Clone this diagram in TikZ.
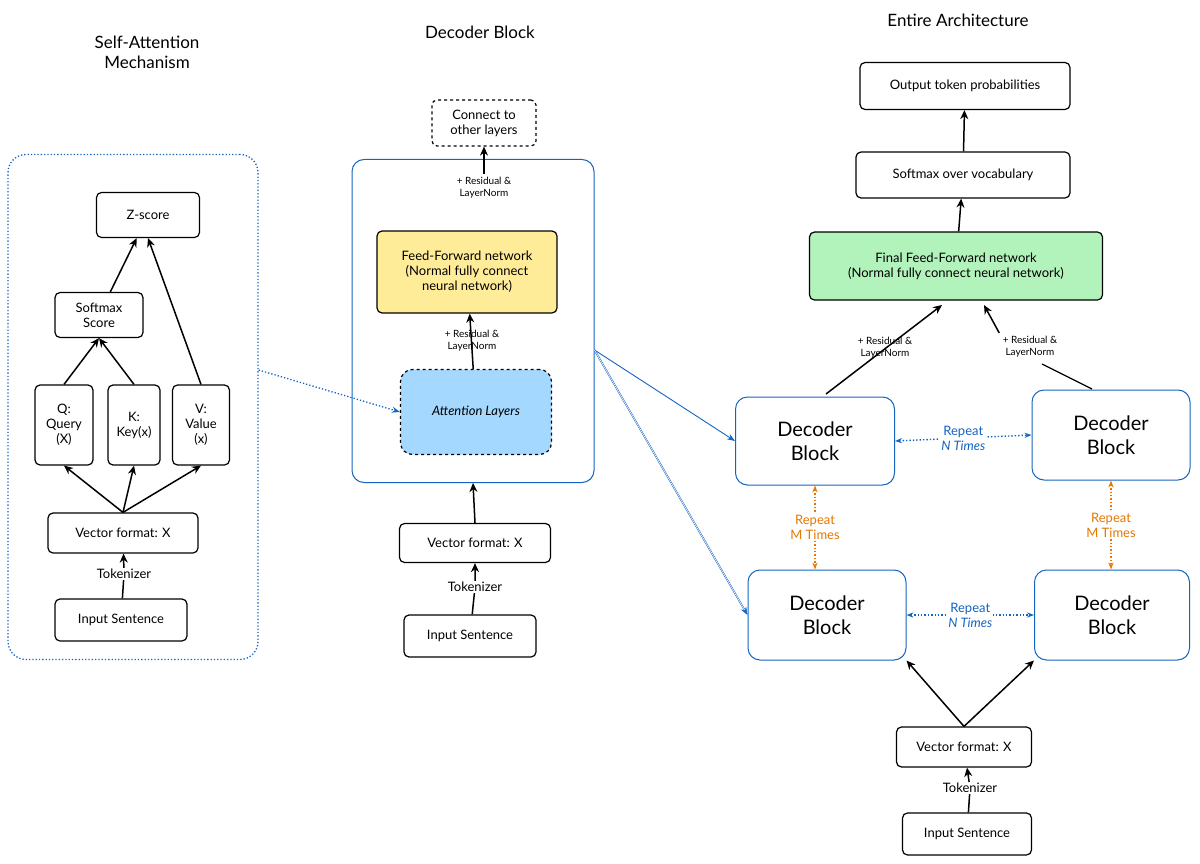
\documentclass[tikz,border=0pt]{standalone}
\usepackage{fontspec}
\setmainfont{Lato}
\usetikzlibrary{arrows.meta}
\definecolor{bl}{HTML}{1565C0}
\definecolor{orn}{HTML}{E67700}
\definecolor{yel}{HTML}{FFEC99}
\definecolor{lbl}{HTML}{A5D8FF}
\definecolor{grn}{HTML}{B2F2BB}
\begin{document}
\begin{tikzpicture}[x=1pt,y=-1pt,
 box/.style={draw,line width=1.2pt,rounded corners=5pt,align=center,font=\fontsize{13}{15}\selectfont,inner sep=0pt},
 bbox/.style={draw=bl,line width=1pt,rounded corners=12pt,align=center,font=\fontsize{20}{24}\selectfont,inner sep=0pt},
 lab/.style={align=center,font=\fontsize{13}{15}\selectfont},
 sm/.style={align=center,font=\fontsize{10}{12}\selectfont},
 rl/.style={align=center,font=\fontsize{13}{15}\selectfont,fill=white,inner sep=1pt},
 ttl/.style={align=center,font=\fontsize{17}{20}\selectfont},
 arr/.style={-{Stealth[length=9pt,width=8pt,open]},line width=1.5pt},
 rep/.style={{Stealth[length=7pt,open]}-{Stealth[length=7pt,open]},dotted,line width=1.4pt}]
\useasboundingbox (0,0) rectangle (1200,864);
% titles
\node[ttl] (t1) at (147,52) {Self-Attention\\Mechanism};
\node[ttl] (t2) at (480,32) {Decoder Block};
\node[ttl] (t3) at (958,20) {Entire Architecture};
% self-attention
\node[draw=bl,dotted,line width=1.3pt,rounded corners=18pt,minimum width=250pt,minimum height=505pt] (sa) at (133,407) {};
\node[box,minimum width=103pt,minimum height=45pt] (z) at (148,215) {Z-score};
\node[box,minimum width=88pt,minimum height=45pt] (sm) at (99,315) {Softmax\\Score};
\node[box,minimum width=58pt,minimum height=80pt] (q) at (64,425) {Q:\\Query\\(X)};
\node[box,minimum width=52pt,minimum height=80pt] (k) at (134,425) {K:\\Key(x)};
\node[box,minimum width=57pt,minimum height=80pt] (v) at (201,425) {V:\\Value\\(x)};
\node[box,minimum width=150pt,minimum height=40pt] (vx1) at (123,533) {Vector format: X};
\node[box,minimum width=132pt,minimum height=42pt] (in1) at (121,620) {Input Sentence};
\node[lab,fill=white,inner sep=1pt] (tk1) at (124,574) {Tokenizer};
\draw[arr] (sm) -- (z);
\draw[arr] (v.north) -- (z.south);
\draw[arr] (q.north) -- (sm.south);
\draw[arr] (k.north) -- (sm.south);
\draw[arr] (vx1.north) -- (q.south);
\draw[arr] (vx1.north) -- (k.south);
\draw[arr] (vx1.north) -- (v.south);
\draw[arr] (in1) -- (tk1) -- (vx1);
% decoder block
\node[draw=bl,line width=1pt,rounded corners=12pt,minimum width=242pt,minimum height=323pt] (db) at (473,321) {};
\node[box,dashed,minimum width=104pt,minimum height=46pt] (ctl) at (484,123) {Connect to\\other layers};
\node[box,fill=yel,minimum width=180pt,minimum height=82pt] (ff) at (467,272) {Feed-Forward network\\(Normal fully connect\\neural network)};
\node[box,dashed,fill=lbl,minimum width=151pt,minimum height=85pt,rounded corners=12pt] (att) at (476,412) {\itshape Attention Layers};
\node[sm] (r1) at (484,188) {+ Residual \&\\LayerNorm};
\node[sm] (r2) at (472,341) {+ Residual \&\\LayerNorm};
\node[box,minimum width=151pt,minimum height=39pt] (vx2) at (475,543) {Vector format: X};
\node[box,minimum width=132pt,minimum height=42pt] (in2) at (470,636) {Input Sentence};
\node[lab,fill=white,inner sep=1pt] (tk2) at (475,587) {Tokenizer};
\draw[arr] (att) -- (ff);
\draw[arr] (r1.north) -- (ctl);
\draw[arr] (vx2.north) -- (db.south);
\draw[arr] (in2) -- (tk2) -- (vx2);
\draw[-{Stealth[length=8pt,open]},dotted,draw=bl,line width=1.3pt] (sa.east|-0,370) -- (att.west);
% entire
\node[box,minimum width=210pt,minimum height=47pt] (out) at (965,86) {Output token probabilities};
\node[box,minimum width=214pt,minimum height=46pt] (sv) at (963,175) {Softmax over vocabulary};
\node[box,fill=grn,minimum width=293pt,minimum height=68pt] (fff) at (956,266) {Final Feed-Forward network\\(Normal fully connect neural network)};
\node[bbox,minimum width=159pt,minimum height=88pt] (tl) at (815,441) {Decoder\\Block};
\node[bbox,minimum width=158pt,minimum height=90pt] (tr) at (1111,435) {Decoder\\Block};
\node[bbox,minimum width=158pt,minimum height=90pt] (bl2) at (827,615) {Decoder\\Block};
\node[bbox,minimum width=155pt,minimum height=90pt] (br) at (1112,615) {Decoder\\Block};
\node[box,minimum width=135pt,minimum height=40pt] (vx3) at (964,747) {Vector format: X};
\node[box,minimum width=129pt,minimum height=42pt] (in3) at (967,834) {Input Sentence};
\node[lab,fill=white,inner sep=1pt] (tk3) at (970,788) {Tokenizer};
\node[sm] (r3) at (885,348) {+ Residual \&\\LayerNorm};
\node[sm] (r4) at (1030,347) {+ Residual \&\\LayerNorm};
\coordinate (ta) at (826,394);
\coordinate (tb) at (942,305);
\coordinate (ua) at (1092,389);
\coordinate (um) at (1042,364);
\coordinate (ub) at (984,305);
\draw[arr] (in3) -- (tk3) -- (vx3);
\draw[arr] (vx3.north) -- (bl2.south east);
\draw[arr] (vx3.north) -- (br.south west);
\draw[arr] (ta) -- (tb);
\draw[line width=1.2pt] (ua) -- (um);
\draw[arr] (r4.north west) -- (ub);
\draw[arr] (fff) -- (sv);
\draw[arr] (sv) -- (out);
\draw[rep,draw=bl] (tl.east) -- (tr.west) node[midway,rl,text=bl]{Repeat\\\itshape N Times};
\draw[rep,draw=bl] (bl2.east) -- (br.west) node[midway,rl,text=bl]{Repeat\\\itshape N Times};
\draw[rep,draw=orn] (tl.south) -- (bl2.north-|tl.south) node[midway,rl,text=orn]{Repeat\\M Times};
\draw[rep,draw=orn] (tr.south) -- (br.north-|tr.south) node[midway,rl,text=orn]{Repeat\\M Times};
\draw[-{Stealth[length=8pt]},draw=bl,line width=0.9pt] (db.east|-0,350) -- (tl.west);
\draw[-{Stealth[length=8pt]},draw=bl,double,line width=0.5pt] (db.east|-0,350) -- (bl2.west);
\end{tikzpicture}
\end{document}
